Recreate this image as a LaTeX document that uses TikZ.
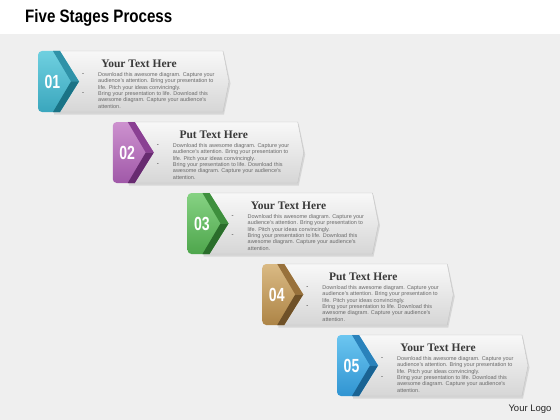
\documentclass[tikz,border=0pt]{standalone}
\usepackage{fontspec}
\usepackage{graphicx}
\setmainfont{Liberation Serif}
\setsansfont{Liberation Sans}
\definecolor{bgc}{HTML}{EFEFEF}
\definecolor{panelTop}{HTML}{F8F8F8}
\definecolor{panelBot}{HTML}{D6D6D6}
\definecolor{panelEdge}{HTML}{C4C4C4}
\definecolor{headc}{HTML}{3A3A3A}
\definecolor{bodyc}{HTML}{6A6A6A}
% stage 1 teal
\definecolor{ct1}{HTML}{6FD0E0}\definecolor{cb1}{HTML}{3AA6BD}\definecolor{cm1}{HTML}{2F92A8}\definecolor{cd1}{HTML}{1A7386}
% stage 2 purple
\definecolor{ct2}{HTML}{CD92CF}\definecolor{cb2}{HTML}{A058A8}\definecolor{cm2}{HTML}{8A4093}\definecolor{cd2}{HTML}{672B70}
% stage 3 green
\definecolor{ct3}{HTML}{86D283}\definecolor{cb3}{HTML}{4EA64C}\definecolor{cm3}{HTML}{3E8F3D}\definecolor{cd3}{HTML}{2A6D2B}
% stage 4 gold
\definecolor{ct4}{HTML}{DABA84}\definecolor{cb4}{HTML}{AD8446}\definecolor{cm4}{HTML}{98713B}\definecolor{cd4}{HTML}{6F5128}
% stage 5 blue
\definecolor{ct5}{HTML}{6CC6F0}\definecolor{cb5}{HTML}{3094D2}\definecolor{cm5}{HTML}{2A82BB}\definecolor{cd5}{HTML}{1A6393}
\tikzset{
  panelbox/.style={top color=panelTop,bottom color=panelBot,draw=panelEdge,line width=0.4pt},
  panelshadow/.style={fill=black,opacity=0.10},
  numtext/.style={text=white,inner sep=0,font=\sffamily\bfseries\fontsize{19}{19}\selectfont},
  headtext/.style={text=headc,inner sep=0,font=\rmfamily\bfseries\fontsize{11.5}{12}\selectfont},
  bodytext/.style={text=bodyc,inner sep=0,anchor=north west,align=left,font=\sffamily\fontsize{5.5}{6.45}\selectfont},
  bullettext/.style={text=black!60,inner sep=0,font=\sffamily\bfseries\fontsize{6}{6}\selectfont}
}
\begin{document}
\begin{tikzpicture}[x=1pt,y=-1pt]
\useasboundingbox (0,0) rectangle (560,420);
\fill[white] (0,0) rectangle (560,34);
\fill[bgc] (0,34) rectangle (560,420);
\node[anchor=west,inner sep=0] (title) at (25,17.5)
  {\scalebox{0.84}[1]{\sffamily\bfseries\fontsize{18}{18}\selectfont Five Stages Process}};
\foreach \i/\head in {1/Your Text Here,2/Put Text Here,3/Your Text Here,4/Put Text Here,5/Your Text Here}{
  \pgfmathsetmacro\Lx{38+74.75*(\i-1)}
  \pgfmathsetmacro\Ty{51+71*(\i-1)}
  \begin{scope}[shift={(\Lx,\Ty)}]
    \fill[panelshadow] (16,2) -- (186,2) -- (192.5,32.5) -- (186,63.5) -- (16,63.5) -- cycle;
    \shade[panelbox] (15,0) -- (185,0) -- (191,30.5) -- (185,61) -- (15,61) -- cycle;
    \shade[top color=ct\i,bottom color=cb\i] (22,0) [rounded corners=4pt] -- (0,0) -- (0,61) [sharp corners] -- (22,61) -- (41,30.5) -- cycle;
    \fill[cm\i] (15,0) -- (22,0) -- (41,30.5) -- (33,30.5) -- cycle;
    \fill[cd\i] (33,30.5) -- (41,30.5) -- (22,61) -- (15,61) -- cycle;
    \node[numtext] (num\i) at (14.5,30.5) {\scalebox{0.74}[1]{0\i}};
    \node[headtext] (head\i) at (101,13) {\head};
    \node[bullettext] (bulA\i) at (45,23.3) {-};
    \node[bullettext] (bulB\i) at (45,43) {-};
    \node[bodytext] (body\i) at (60,21) {Download this awesome diagram. Capture your\\
      audience's attention. Bring your presentation to\\
      life. Pitch your ideas convincingly.\\
      Bring your presentation to life. Download this\\
      awesome diagram. Capture your audience's\\
      attention.};
  \end{scope}
}
\node[text=black!85,inner sep=0,font=\sffamily\fontsize{9.5}{10}\selectfont] (logo) at (530,409) {Your Logo};
\end{tikzpicture}
\end{document}
